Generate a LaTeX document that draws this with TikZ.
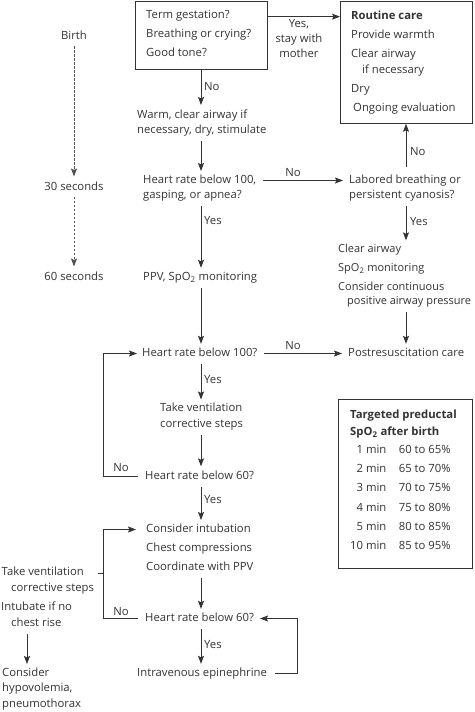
\documentclass[tikz,border=0pt]{standalone}
\usepackage{fontspec}
\setmainfont{Open Sans}
\usetikzlibrary{arrows.meta}
\definecolor{ink}{HTML}{333333}
\begin{document}
\begin{tikzpicture}[x=1pt,y=-1pt,
  txt/.style={inner sep=0pt, text=ink, font=\fontsize{11.3}{15}\selectfont, align=left,
    execute at begin node={\rule{0pt}{9pt}}, execute at end node={\rule[-3pt]{0pt}{3pt}}},
  tabst/.style={inner sep=0pt, text=ink, font=\fontsize{11.3}{15}\selectfont, anchor=north west},
  frame/.style={draw=ink, line width=0.8pt, inner sep=0pt, anchor=north west},
  ln/.style={draw=ink, line width=0.8pt},
  arr/.style={ln, -{Stealth[length=8pt,width=6pt,inset=1.5pt]}},
  varr/.style={arr, shorten <=4.5pt, shorten >=3.5pt},
  darr/.style={draw=ink!85, line width=1pt, dash pattern=on 2.5pt off 1.5pt,
    -{Stealth[length=8pt,width=6pt,inset=1.5pt]}},
]
\useasboundingbox (0,0) rectangle (474,712);
\coordinate (mcol) at (201,0);
\coordinate (rcol) at (406,0);
\coordinate (tcol) at (74,0);
\coordinate (lloop) at (103,0);
\coordinate (rloop) at (297,0);
\coordinate (bcol) at (27,0);

% timeline
\node[txt, anchor=base] (birth) at (74,39.5) {Birth};
\node[txt, anchor=base] (s30) at (74,190) {30 seconds};
\node[txt, anchor=base] (s60) at (74,280) {60 seconds};
\draw[darr, shorten <=3.5pt, shorten >=4.3pt] (tcol |- birth.south) -- (tcol |- s30.north);
\draw[darr, shorten <=3.7pt, shorten >=4.3pt] (tcol |- s30.south) -- (tcol |- s60.north);

% top boxes
\node[frame, minimum width=132pt, minimum height=68.5pt] (q1box) at (135,0.5) {};
\node[txt, anchor=north west] (q1) at (146,10.5) {Term gestation?\\[4pt]Breathing or crying?\\[4pt]Good tone?};
\node[frame, minimum width=132pt, minimum height=122.5pt] (rcbox) at (340,0.5) {};
\node[txt, anchor=north west] (rc) at (351,10.5) {\textbf{Routine care}\\[4pt]Provide warmth\\[4.5pt]Clear airway\\[0.5pt]\hspace*{11pt}if necessary\\[4.5pt]Dry\\[4pt]\hspace*{2pt}Ongoing evaluation};
\node[txt, align=center, anchor=north] (yeslbl) at (299,19) {Yes,\\stay with\\mother};
\draw[arr] ([yshift=18.5pt]q1box.east) -- ([yshift=18.5pt]q1box.east -| rcbox.west);

% main column
\node[txt, anchor=north west] (warm) at (137,109.5) {Warm, clear airway if\\necessary, dry, stimulate};
\node[txt, anchor=north west] (hr1) at (143,174.5) {Heart rate below 100,\\gasping, or apnea?};
\node[txt, anchor=base west] (ppv) at (143,280.5) {PPV, SpO\textsubscript{2} monitoring};
\node[txt, anchor=base west] (hr2) at (142,356.5) {Heart rate below 100?};
\node[txt, anchor=north west] (tvc) at (160,403) {Take ventilation\\[0.5pt]corrective steps};
\node[txt, anchor=base west] (hr3) at (145,479) {Heart rate below 60?};
\node[txt, anchor=north west] (ci) at (146,523.5) {Consider intubation\\[4pt]Chest compressions\\[4pt]Coordinate with PPV};
\node[txt, anchor=base west] (hr4) at (145,621.5) {Heart rate below 60?};
\node[txt, anchor=base west] (epi) at (137,676.5) {Intravenous epinephrine};

\draw[arr, shorten >=4.5pt] (mcol |- q1box.south) -- (mcol |- warm.north);
\node[txt, anchor=base west] (lno1) at (204,90.7) {No};
\draw[varr] (mcol |- warm.south) -- (mcol |- hr1.north);
\draw[varr] (mcol |- hr1.south) -- (mcol |- ppv.north);
\node[txt, anchor=base west] (lyes1) at (204,224.5) {Yes};
\draw[varr] (mcol |- ppv.south) -- (mcol |- hr2.north);
\draw[varr] (mcol |- hr2.south) -- (mcol |- tvc.north);
\node[txt, anchor=base west] (lyes2) at (204,383) {Yes};
\draw[varr] (mcol |- tvc.south) -- (mcol |- hr3.north);
\draw[varr] (mcol |- hr3.south) -- (mcol |- ci.north);
\node[txt, anchor=base west] (lyes3) at (204,503.5) {Yes};
\draw[varr] (mcol |- ci.south) -- (mcol |- hr4.north);
\draw[varr] (mcol |- hr4.south) -- (mcol |- epi.north);
\node[txt, anchor=base west] (lyes4) at (204,648) {Yes};

% right column
\node[txt, anchor=north west] (lab) at (349,174.5) {Labored breathing or\\persistent cyanosis?};
\node[txt, anchor=north west, font=\fontsize{11}{15}\selectfont] (clear) at (338,243.8) {Clear airway\\[4pt]SpO\textsubscript{2} monitoring\\[4pt]Consider continuous\\[-1pt]\hspace*{9pt}positive airway pressure};
\node[txt, anchor=base west] (post) at (348,356.5) {Postresuscitation care};

\draw[arr, shorten <=7pt, shorten >=6pt] ([yshift=-6pt]hr1.north east) -- ([yshift=-6pt]hr1.north east -| lab.west);
\node[txt, anchor=base] (lno2) at (293,176.5) {No};
\draw[arr, shorten <=8pt] (rcol |- lab.north) -- (rcol |- rcbox.south);
\node[txt, anchor=base west] (lno3) at (410,155) {No};
\draw[varr] (rcol |- lab.south) -- (rcol |- clear.north);
\node[txt, anchor=base west] (lyes5) at (410,225) {Yes};
\draw[varr] (rcol |- clear.south) -- (rcol |- post.north);
\draw[arr, shorten <=6pt, shorten >=6pt] (hr2.east) -- (hr2.east -| post.west);
\node[txt, anchor=base] (lno4) at (293,349.5) {No};

% loops
\draw[arr, shorten <=7pt, shorten >=5pt] (hr3.west) -- (hr3.west -| lloop) |- (hr2.west);
\node[txt, anchor=base] (lno5) at (121,471.5) {No};
\draw[arr, shorten <=7pt, shorten >=10pt] (hr4.west) -- (hr4.west -| lloop) |- ([yshift=-6pt]ci.north west);
\node[txt, anchor=base] (lno6) at (121,615) {No};
\draw[arr, shorten <=8pt, shorten >=6pt] (epi.east) -- (epi.east -| rloop) |- (hr4.east);

% left notes
\node[txt, anchor=north west] (tv) at (1.5,567) {Take ventilation\\[0.5pt]\hspace*{9.5pt}corrective steps};
\node[txt, anchor=north west] (int) at (1,602) {Intubate if no\\[0.5pt]\hspace*{10pt}chest rise};
\node[txt, anchor=north west] (cons) at (2,667.5) {Consider\\[0.5pt]hypovolemia,\\[0.5pt]pneumothorax};
\draw[ln, shorten <=4pt] ([yshift=-6pt]tv.north east) -- ([yshift=-6pt]tv.north east -| lloop);
\draw[varr] (bcol |- int.south) -- (bcol |- cons.north);

% table
\node[frame, minimum width=134pt, minimum height=169pt] (tbox) at (338,399) {};
\node[tabst] (tab) at (350,407.5) {\begin{tabular}{@{}r@{\hspace{12.5pt}}l@{}}
\multicolumn{2}{@{}l@{}}{\bfseries Targeted preductal}\\[2.5pt]
\multicolumn{2}{@{}l@{}}{\bfseries SpO\textsubscript{2} after birth}\\[3pt]
1 min & 60 to 65\%\\[4.1pt]
2 min & 65 to 70\%\\[4.1pt]
3 min & 70 to 75\%\\[4.1pt]
4 min & 75 to 80\%\\[4.1pt]
5 min & 80 to 85\%\\[4.1pt]
10 min & 85 to 95\%
\end{tabular}};
\end{tikzpicture}
\end{document}
